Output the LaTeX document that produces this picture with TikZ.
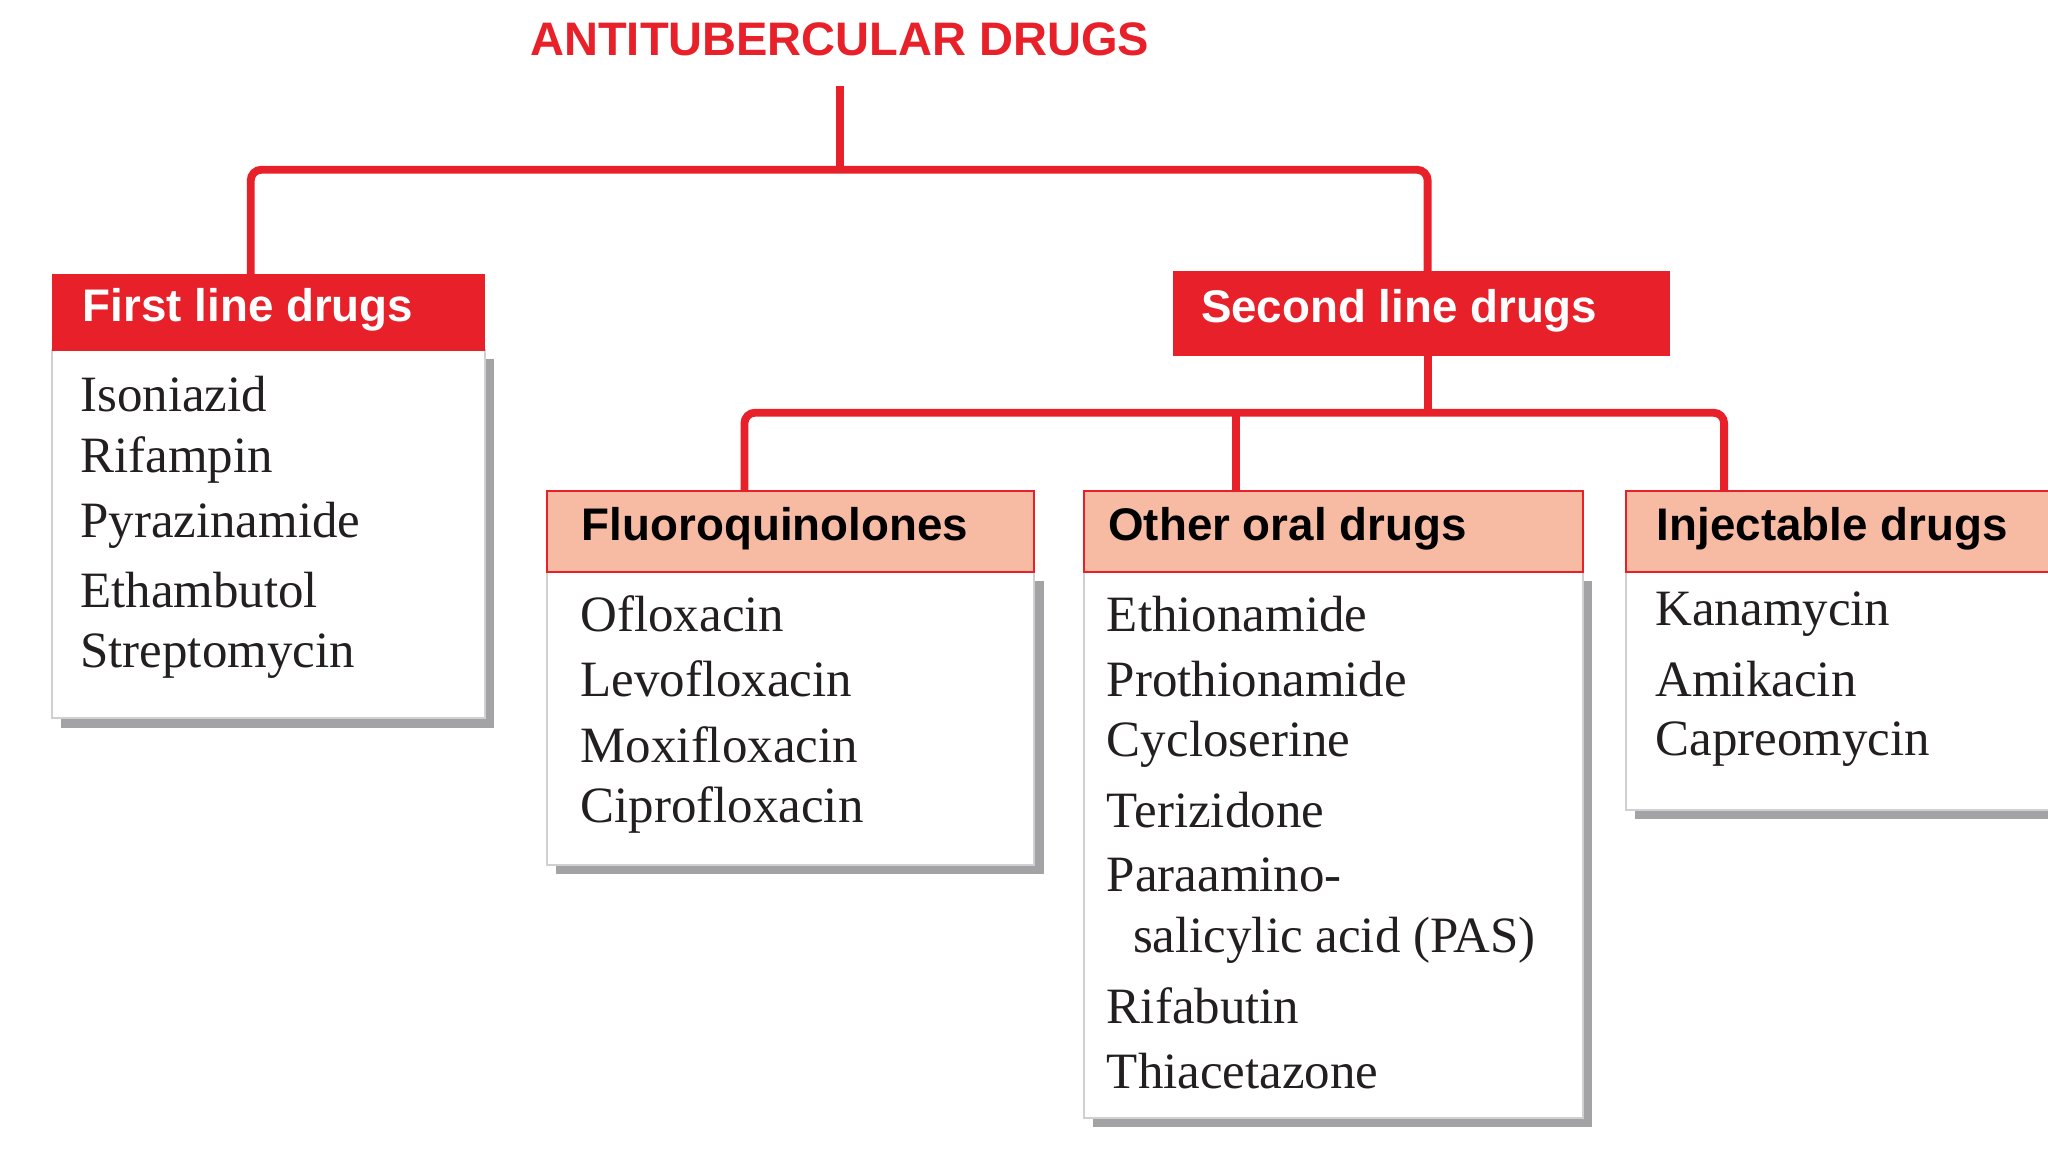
\documentclass[tikz,border=0pt]{standalone}
\usepackage{fontspec}
\setmainfont{Liberation Serif}
\setsansfont{Liberation Sans}
\definecolor{tbred}{HTML}{E8202A}
\definecolor{salmon}{HTML}{F7BBA3}
\definecolor{shad}{HTML}{A3A3A6}
\definecolor{bord}{HTML}{D0D0D0}
\definecolor{txt}{HTML}{231F20}
\begin{document}
\begin{tikzpicture}[x=1pt,y=-1pt,
  link/.style={draw=tbred,line width=6pt,rounded corners=8pt},
  redhead/.style={fill=tbred,draw=tbred},
  pinkhead/.style={fill=salmon,draw=tbred,line width=1.5pt},
  bodybox/.style={fill=white,draw=bord,line width=1.5pt},
  hfont/.style={font=\sffamily\bfseries\fontsize{35}{40}\selectfont,anchor=west},
  item/.style={font=\fontsize{39}{44}\selectfont,text=txt,anchor=west}]
\useasboundingbox (0,0) rectangle (1568,882);
\clip (0,0) rectangle (1568,882);
% title
\node[font=\sffamily\bfseries\fontsize{36}{40}\selectfont,text=tbred] (title) at (643,30) {ANTITUBERCULAR DRUGS};
% connectors
\draw[link] (643,66) -- (643,130);
\draw[link] (192,212) -- (192,130) -- (1093,130) -- (1093,212);
\draw[link] (1093,270) -- (1093,316);
\draw[link] (570,378) -- (570,316) -- (1320,316) -- (1320,378);
\draw[link] (946,316) -- (946,378);
% shadows
\fill[shad] (47,275) rectangle (378,557);
\fill[shad] (426,445) rectangle (799,669);
\fill[shad] (837,445) rectangle (1219,863);
\fill[shad] (1252,445) rectangle (1600,627);
% first line
\draw[bodybox] (40,268) rectangle (371,550);
\draw[redhead] (40,210) rectangle (371,268);
\node[hfont,text=white] (fl) at (60,237) {First line drugs};
\foreach \t [count=\i] in {Isoniazid,Rifampin,Pyrazinamide,Ethambutol,Streptomycin}
  \node[item] (f\i) at (58,252+50*\i) {\t};
% second line
\draw[redhead] (898,208) rectangle (1278,272);
\node[hfont,text=white] (sl) at (916,238) {Second line drugs};
% fluoroquinolones
\draw[bodybox] (419,438) rectangle (792,662);
\draw[pinkhead] (419,376) rectangle (792,438);
\node[hfont,text=black] (fq) at (442,405) {Fluoroquinolones};
\foreach \t [count=\i] in {Ofloxacin,Levofloxacin,Moxifloxacin,Ciprofloxacin}
  \node[item] (q\i) at (441,420+50*\i) {\t};
% other oral
\draw[bodybox] (830,438) rectangle (1212,856);
\draw[pinkhead] (830,376) rectangle (1212,438);
\node[hfont,text=black] (oo) at (845,405) {Other oral drugs};
\foreach \t [count=\i] in {Ethionamide,Prothionamide,Cycloserine,Terizidone,Paraamino-,\hspace{20pt}salicylic acid (PAS),Rifabutin,Thiacetazone}
  \node[item] (o\i) at (844,420+50*\i) {\t};
% injectable
\draw[bodybox] (1245,438) rectangle (1600,620);
\draw[pinkhead] (1245,376) rectangle (1600,438);
\node[hfont,text=black] (inj) at (1265,405) {Injectable drugs};
\foreach \t [count=\i] in {Kanamycin,Amikacin,Capreomycin}
  \node[item] (j\i) at (1264,420+50*\i) {\t};
\end{tikzpicture}
\end{document}
